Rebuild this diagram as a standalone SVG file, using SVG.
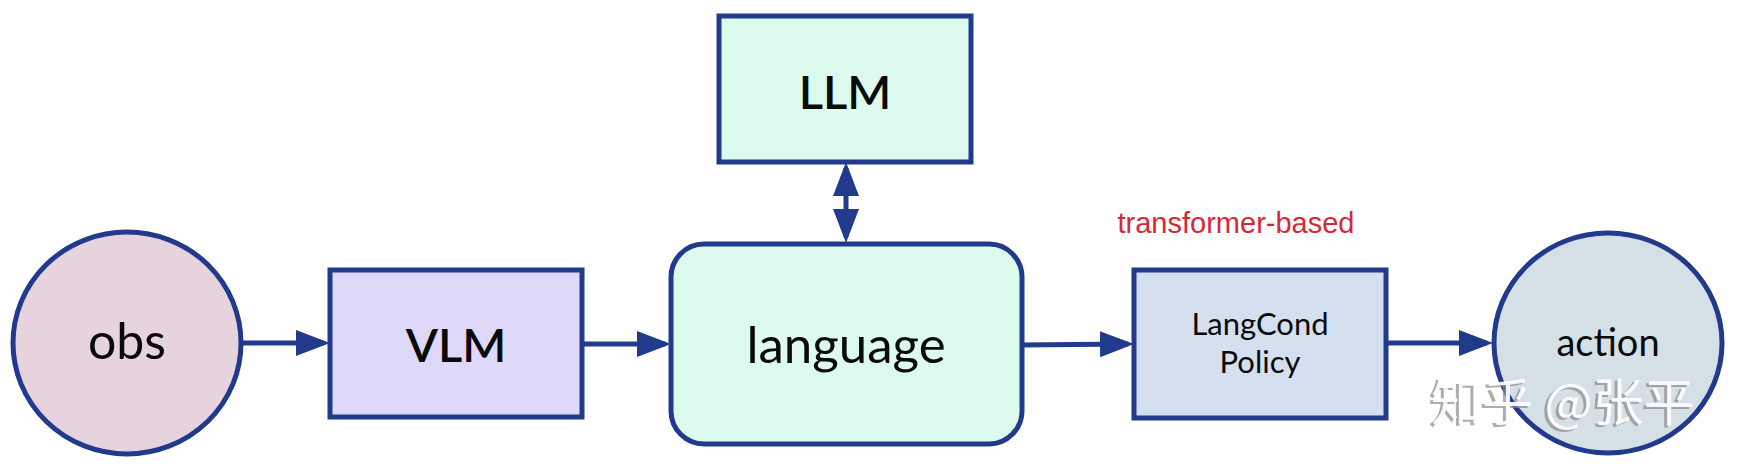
<svg xmlns="http://www.w3.org/2000/svg" width="1746" height="472" viewBox="0 0 1746 472">
<style>
.node{stroke:#213a8c;stroke-width:5;}
.lbl{font-family:Lato,"Open Sans","Liberation Sans",sans-serif;fill:#0a0a0a;text-anchor:middle;}
.edge{stroke:#213a8c;stroke-width:5;fill:none;}
.wm{font-family:"Noto Sans CJK SC","Noto Sans",sans-serif;font-size:51px;}
</style>
<defs>
<marker id="ah" markerUnits="userSpaceOnUse" markerWidth="34" markerHeight="26" refX="28" refY="13" orient="auto-start-reverse">
<path d="M0,0 L34,13 L0,26 Z" fill="#213a8c"/>
</marker>
</defs>
<rect width="1746" height="472" fill="#ffffff"/>
<g id="connectors">
<line class="edge" x1="242" y1="343" x2="324" y2="343" marker-end="url(#ah)"/>
<line class="edge" x1="582" y1="344" x2="665" y2="344" marker-end="url(#ah)"/>
<line class="edge" x1="1022" y1="345" x2="1128" y2="344" marker-end="url(#ah)"/>
<line class="edge" x1="1386" y1="343" x2="1487" y2="343" marker-end="url(#ah)"/>
<line class="edge" x1="846" y1="168" x2="846" y2="237" marker-start="url(#ah)" marker-end="url(#ah)"/>
</g>
<g id="obs">
<ellipse class="node" cx="127" cy="343" rx="114" ry="111" fill="#e6d3de"/>
<text class="lbl" x="127" y="359" font-size="50">obs</text>
</g>
<g id="vlm">
<rect class="node" x="330" y="270" width="252" height="147" fill="#e0d8f9"/>
<text class="lbl" x="456" y="362" font-size="47" font-weight="600">VLM</text>
</g>
<g id="language">
<rect class="node" x="671" y="244" width="351" height="200" rx="33" fill="#dcfbee"/>
<text class="lbl" x="846" y="363" font-size="51">language</text>
</g>
<g id="llm">
<rect class="node" x="719" y="16" width="252" height="146" fill="#dcfbee"/>
<text class="lbl" x="845" y="109" font-size="47" font-weight="600">LLM</text>
</g>
<g id="langcond">
<text x="1236" y="233" font-family="'Liberation Sans',Arial,sans-serif" font-size="29" fill="#d42a35" text-anchor="middle">transformer-based</text>
<rect class="node" x="1134" y="270" width="252" height="148" fill="#d4e0ef"/>
<text class="lbl" x="1260" y="335" font-size="31">LangCond</text>
<text class="lbl" x="1260" y="373" font-size="31">Policy</text>
</g>
<g id="action">
<ellipse class="node" cx="1608" cy="343" rx="114" ry="110" fill="#d5dfe6"/>
<text class="lbl" x="1608" y="356" font-size="38">action</text>
</g>
<g id="watermark">
<text class="wm" x="1428" y="423" fill="#8a8a8a" fill-opacity="0.7">知乎 @张平</text>
<text class="wm" x="1431" y="421" fill="#ffffff" fill-opacity="0.92">知乎 @张平</text>
</g>
</svg>
